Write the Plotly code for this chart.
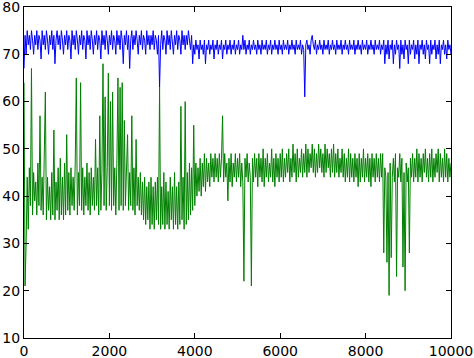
import plotly.graph_objects as go

green_vals = [
    64,21,30,44,33,46,38,67,36,45,39,43,36,47,38,57,37,44,36,46,
    62,35,44,37,42,35,45,36,54,35,43,37,46,35,48,36,44,35,47,36,
    53,37,45,36,46,38,44,37,47,65,36,45,38,64,37,46,36,44,38,47,
    37,45,36,46,38,44,37,52,38,46,36,57,37,45,68,38,61,37,46,66,
    38,60,37,62,38,46,36,47,65,37,63,38,64,37,56,38,46,53,37,45,
    38,57,37,46,36,52,38,44,37,45,36,43,35,44,34,42,35,43,33,44,
    34,42,33,43,35,44,34,63,33,42,34,45,33,43,34,41,33,44,35,42,
    33,45,34,42,33,43,34,59,35,44,33,60,34,45,35,47,36,46,37,55,
    38,47,40,46,41,48,40,47,42,49,41,48,43,47,42,49,44,48,43,49,
    44,48,43,49,44,48,57,43,49,44,47,39,48,43,49,42,47,44,49,43,
    48,44,49,42,47,43,22,48,44,49,43,47,44,21,48,43,49,44,48,42,
    49,44,48,43,50,42,48,44,49,43,47,44,50,43,48,42,49,44,48,43,
    49,44,50,43,48,44,49,45,50,43,48,44,51,45,49,43,50,44,48,45,
    50,44,49,45,51,44,50,45,49,46,51,45,50,44,49,45,51,46,50,45,
    49,44,51,45,50,46,49,44,50,45,51,44,49,45,50,44,48,45,50,44,
    49,43,48,44,50,43,49,44,48,43,49,44,48,42,49,43,48,44,50,43,
    48,44,49,43,48,42,49,44,48,43,49,44,48,43,49,44,49,28,46,44,
    26,45,19,47,27,44,48,43,49,23,46,44,49,43,48,25,45,20,47,43,
    46,28,48,44,49,43,48,44,50,43,49,44,48,43,49,45,50,44,48,43,
    49,44,50,43,48,44,49,45,50,43,49,44,48,43,50,44,49,43,48,44,
    47,
]
blue_vals = [
    67,74,70,75,72,74,71,75,73,70,74,72,75,71,74,73,69,75,72,74,
    71,75,73,70,74,72,75,71,74,68,73,75,72,74,71,75,73,70,74,72,
    75,71,74,73,69,75,72,74,71,75,73,70,74,72,75,71,74,73,69,75,
    72,74,71,75,73,70,74,72,75,71,74,73,69,75,72,74,71,75,73,70,
    74,72,75,71,74,73,70,75,72,74,71,75,73,68,74,72,75,71,74,67,
    73,75,71,74,72,75,73,70,74,72,75,71,74,73,70,75,72,74,71,74,
    72,75,71,74,73,70,74,63,72,75,71,74,73,70,75,72,74,71,75,73,
    70,74,72,75,71,74,73,70,75,72,74,71,74,72,75,73,71,74,68,72,
    70,73,71,72,69,73,71,72,70,73,68,72,71,73,70,72,71,73,69,72,
    71,73,70,72,71,73,69,72,71,73,70,72,71,73,70,72,71,73,70,72,
    71,73,70,72,71,74,71,73,70,72,71,73,70,72,71,73,71,72,70,73,
    71,72,70,73,71,72,71,73,70,72,71,73,70,72,71,73,71,72,70,73,
    71,72,70,73,71,72,71,73,70,72,71,73,71,72,70,73,71,72,71,73,
    70,72,71,61,72,73,71,72,70,73,74,72,71,73,70,72,71,73,71,72,
    70,73,71,72,71,73,70,72,71,73,71,72,70,73,71,72,71,73,70,72,
    71,73,71,72,70,73,71,72,71,73,70,72,71,73,71,72,70,73,71,72,
    71,73,70,72,71,73,71,72,70,73,71,72,71,73,70,72,71,73,68,72,
    70,73,69,72,71,73,68,72,70,73,71,72,67,73,70,72,69,73,71,72,
    68,73,70,72,71,73,69,72,70,73,68,72,71,73,70,72,69,73,71,72,
    68,73,70,72,71,73,69,72,70,73,68,72,71,73,70,72,69,73,71,72,
    70,
]
x_step = 25
x_green = [i * x_step for i in range(len(green_vals))]
x_blue = [i * x_step for i in range(len(blue_vals))]

x_ticks = [0, 2000, 4000, 6000, 8000, 10000]
y_ticks = [10, 20, 30, 40, 50, 60, 70, 80]

fig = go.Figure()
fig.add_trace(go.Scatter(x=x_blue, y=blue_vals, mode="lines",
                         line=dict(color="#0000ff", width=1)))
fig.add_trace(go.Scatter(x=x_green, y=green_vals, mode="lines",
                         line=dict(color="#008000", width=1)))

axis_common = dict(showgrid=False, zeroline=False, showline=True, linecolor="black",
                   linewidth=1, mirror="ticks", ticks="inside", ticklen=5,
                   tickcolor="black", automargin=False, ticklabeloverflow="allow",
                   tickfont=dict(family="DejaVu Sans", size=14, color="black"))
fig.update_xaxes(range=[0, 10000], tickvals=x_ticks, ticktext=[str(v) for v in x_ticks], **axis_common)
fig.update_yaxes(range=[10, 80], tickvals=y_ticks, ticktext=[str(v) for v in y_ticks], **axis_common)
fig.update_layout(width=474, height=358, margin=dict(l=24, r=23, t=7, b=20),
                  plot_bgcolor="white", paper_bgcolor="white", showlegend=False)
fig.write_html("out.html", config={"displayModeBar": False},
               post_script="document.body.style.margin='0';document.body.style.overflow='hidden';")
